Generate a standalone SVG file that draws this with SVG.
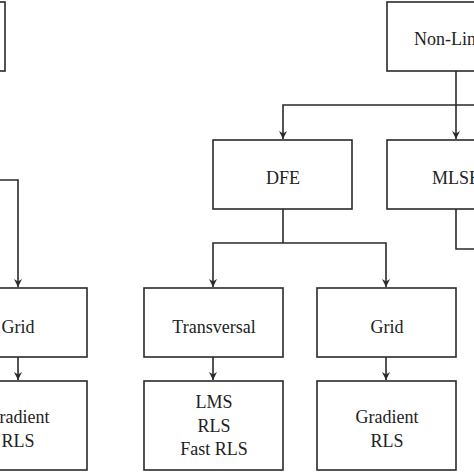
<svg xmlns="http://www.w3.org/2000/svg" width="474" height="474" viewBox="0 0 474 474">
<style>
.box{fill:#fff;stroke:#2a2a2a;stroke-width:1.6}
.t{font-family:"Liberation Serif","Times New Roman",serif;font-size:18px;fill:#222;text-anchor:middle}
.c{fill:none;stroke:#2a2a2a;stroke-width:1.6}
</style>
<defs>
<marker id="ah" viewBox="0 0 10 10" refX="10" refY="5" markerWidth="5" markerHeight="5" orient="auto" markerUnits="strokeWidth">
<path d="M0,0 L10,5 L0,10 L3,5 Z" fill="#2a2a2a"/>
</marker>
</defs>
<rect width="474" height="474" fill="#fff"/>
<g id="connectors">
<path class="c" d="M-10,180 H18 V287" marker-end="url(#ah)"/>
<path class="c" d="M456,71 V139" marker-end="url(#ah)"/>
<path class="c" d="M480,105 H283 V139" marker-end="url(#ah)"/>
<path class="c" d="M283,209 V243"/>
<path class="c" d="M283,243 H213 V287" marker-end="url(#ah)"/>
<path class="c" d="M283,243 H386 V287" marker-end="url(#ah)"/>
<path class="c" d="M456,209 V249 H480"/>
<path class="c" d="M18,357 V380" marker-end="url(#ah)"/>
<path class="c" d="M213,357 V380" marker-end="url(#ah)"/>
<path class="c" d="M386,357 V380" marker-end="url(#ah)"/>
</g>
<g id="n-topleft"><rect class="box" x="-100" y="2" width="105" height="69"/></g>
<g id="n-nonlinear"><rect class="box" x="387" y="2" width="139" height="69"/><text class="t" x="456" y="45">Non-Linear</text></g>
<g id="n-dfe"><rect class="box" x="213" y="140" width="139" height="69"/><text class="t" x="283" y="184">DFE</text></g>
<g id="n-mlse"><rect class="box" x="387" y="140" width="139" height="69"/><text class="t" x="456" y="184">MLSE</text></g>
<g id="n-grid-left"><rect class="box" x="-52" y="288" width="139" height="69"/><text class="t" x="18" y="333">Grid</text></g>
<g id="n-transversal"><rect class="box" x="144" y="288" width="139" height="69"/><text class="t" x="214" y="333">Transversal</text></g>
<g id="n-grid-right"><rect class="box" x="317" y="288" width="139" height="69"/><text class="t" x="387" y="333">Grid</text></g>
<g id="n-alg-left"><rect class="box" x="-52" y="381" width="139" height="89"/><text class="t" x="18" y="423">Gradient</text><text class="t" x="18" y="447">RLS</text></g>
<g id="n-alg-trans"><rect class="box" x="144" y="381" width="139" height="89"/><text class="t" x="214" y="408">LMS</text><text class="t" x="214" y="432">RLS</text><text class="t" x="214" y="455">Fast RLS</text></g>
<g id="n-alg-grid"><rect class="box" x="317" y="381" width="139" height="89"/><text class="t" x="387" y="423">Gradient</text><text class="t" x="387" y="447">RLS</text></g>
</svg>
